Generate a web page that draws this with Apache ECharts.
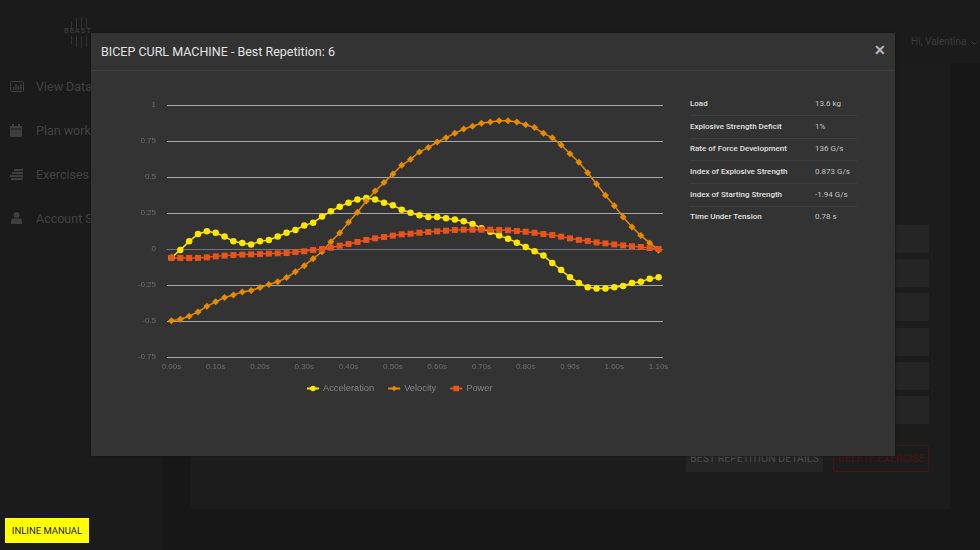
<!DOCTYPE html>
<html>
<head>
<meta charset="utf-8">
<title>Bicep Curl Machine</title>
<script src="https://cdn.jsdelivr.net/npm/echarts@6/dist/echarts.min.js"></script>
<style>
html,body{margin:0;padding:0;width:980px;height:550px;overflow:hidden;background:#171717;font-family:Roboto,sans-serif}
.abs{position:absolute;box-sizing:border-box;white-space:nowrap}
#sidebar{left:0;top:0;width:163px;height:550px;background:#1b1b1b}
#topbar{left:163px;top:0;width:817px;height:63px;background:#1b1b1b}
#panel{left:190px;top:63px;width:760px;height:446px;background:#1c1c1c}
.nav{left:36px;font-size:12.5px;color:#424242;line-height:16px}
.row{left:880px;width:49px;height:28px;background:#252525}
#modal{left:91px;top:33px;width:804px;height:423px;background:#333;box-shadow:0 0 2px #111}
#mhead{left:91px;top:70px;width:804px;height:1px;background:#414141}
#mtitle{left:101px;top:43px;font-size:12.5px;line-height:17px;color:#e4e4e4}
#close{left:874px;top:41px;font-size:14px;line-height:18px;font-weight:700;color:#b8b8b8}
.tl{left:690px;font-size:8px;font-weight:500;line-height:12px;color:#e0e0e0}
.tv{left:815px;font-size:8px;line-height:12px;color:#c4c4c4}
.sep{left:690px;width:167px;height:1px;background:#3f3f3f}
#chart{left:0;top:0;width:980px;height:550px}
svg.abs{overflow:visible}
</style>
</head>
<body>
<div class="abs" id="sidebar"></div>
<div class="abs" id="topbar"></div>
<div class="abs" id="panel"></div>
<svg class="abs" style="left:70px;top:17px" width="20" height="31" stroke="#333" stroke-width="1">
  <path d="M1.5 4V11M1.5 19V27M6.5 1V11M6.5 19V30M11.5 0V11M11.5 19V31M16.5 1V11M16.5 19V30"/>
</svg>
<div class="abs" style="left:64px;top:26px;font-size:7.5px;font-weight:700;color:#383838;letter-spacing:.9px">BEAST</div>
<svg class="abs" style="left:10px;top:81px" width="14" height="12" fill="none" stroke="#3f3f3f"><rect x=".5" y=".5" width="13" height="10" rx="1"/><path d="M3.5 9V6M6 9V3M8.5 9V5M11 9V3" stroke-width="1.4"/></svg>
<div class="abs nav" style="top:79px">View Data</div>
<svg class="abs" style="left:10px;top:124px" width="13" height="13" fill="#3f3f3f"><rect x="0" y="2" width="12" height="11" rx="1"/><rect x="2" y="0" width="2" height="3"/><rect x="8" y="0" width="2" height="3"/><path d="M1 5H11" stroke="#1b1b1b"/></svg>
<div class="abs nav" style="top:123px">Plan workout</div>
<svg class="abs" style="left:10px;top:169px" width="13" height="11" stroke="#3f3f3f" stroke-width="2"><path d="M4 1H13M2 4H13M0 7H13M1 10H13"/></svg>
<div class="abs nav" style="top:167px">Exercises</div>
<svg class="abs" style="left:11px;top:212px" width="11" height="12" fill="#3f3f3f"><circle cx="5.5" cy="3" r="3"/><path d="M0 12V8.5C0 7 1.5 6.5 3 6.5H8C9.5 6.5 11 7 11 8.5V12Z"/></svg>
<div class="abs nav" style="top:211px">Account Settings</div>
<div class="abs" style="left:911px;top:36px;font-size:10px;color:#3c3c3c">Hi, Valentina</div>
<svg class="abs" style="left:971px;top:41px" width="7" height="5" fill="none" stroke="#3c3c3c"><path d="M.5 .5L3.5 3.5L6.5 .5"/></svg>
<div class="abs row" style="top:225px"></div>
<div class="abs row" style="top:259px"></div>
<div class="abs row" style="top:293px"></div>
<div class="abs row" style="top:328px"></div>
<div class="abs row" style="top:362px"></div>
<div class="abs row" style="top:396px"></div>
<div class="abs" style="left:686px;top:447px;width:137px;height:25px;background:#252525;color:#4c4c4c;font-size:10.5px;line-height:23px;text-align:center;border-radius:2px">BEST REPETITION DETAILS</div>
<div class="abs" style="left:833px;top:445px;width:96px;height:27px;border:1px solid #4a1414;color:#4a1414;font-size:10.5px;line-height:25px;text-align:center;border-radius:2px">DELETE EXERCISE</div>
<div class="abs" style="left:5px;top:518px;width:84px;height:25px;background:#ff0;color:#222;font-size:9.5px;line-height:25px;text-align:center">INLINE MANUAL</div>
<div class="abs" id="modal"></div>
<div class="abs" id="mhead"></div>
<div class="abs" id="mtitle">BICEP CURL MACHINE - Best Repetition: 6</div>
<div class="abs" id="close">&#10005;</div>
<div id="tbl"></div>
<div class="abs" id="chart"></div>
<script>
const categories = ["0.00s","0.02s","0.04s","0.06s","0.08s","0.10s","0.12s","0.14s","0.16s","0.18s","0.20s","0.22s","0.24s","0.26s","0.28s","0.30s","0.32s","0.34s","0.36s","0.38s","0.40s","0.42s","0.44s","0.46s","0.48s","0.50s","0.52s","0.54s","0.56s","0.58s","0.60s","0.62s","0.64s","0.66s","0.68s","0.70s","0.72s","0.74s","0.76s","0.78s","0.80s","0.82s","0.84s","0.86s","0.88s","0.90s","0.92s","0.94s","0.96s","0.98s","1.00s","1.02s","1.04s","1.06s","1.08s","1.10s"];
const acceleration = [-0.06,-0.007,0.053,0.104,0.123,0.113,0.086,0.053,0.042,0.032,0.053,0.062,0.086,0.113,0.132,0.164,0.183,0.225,0.262,0.294,0.322,0.343,0.354,0.343,0.322,0.303,0.273,0.252,0.234,0.222,0.222,0.213,0.204,0.192,0.174,0.144,0.12,0.093,0.072,0.044,0.014,-0.016,-0.046,-0.097,-0.146,-0.197,-0.236,-0.266,-0.275,-0.275,-0.266,-0.257,-0.236,-0.227,-0.206,-0.197];
const velocity = [-0.498,-0.488,-0.467,-0.437,-0.398,-0.367,-0.337,-0.319,-0.298,-0.288,-0.267,-0.247,-0.228,-0.198,-0.158,-0.116,-0.067,-0.019,0.051,0.111,0.185,0.255,0.333,0.403,0.461,0.521,0.581,0.623,0.674,0.704,0.743,0.773,0.803,0.833,0.852,0.873,0.882,0.891,0.891,0.882,0.863,0.843,0.803,0.773,0.722,0.662,0.602,0.53,0.451,0.373,0.301,0.222,0.153,0.093,0.042,-0.008];
const power = [-0.062,-0.062,-0.062,-0.062,-0.058,-0.051,-0.046,-0.042,-0.039,-0.037,-0.035,-0.032,-0.03,-0.028,-0.021,-0.016,-0.007,0,0.009,0.023,0.035,0.049,0.063,0.074,0.083,0.093,0.102,0.106,0.113,0.118,0.123,0.127,0.132,0.134,0.134,0.134,0.134,0.132,0.13,0.125,0.12,0.113,0.104,0.097,0.086,0.074,0.063,0.056,0.046,0.039,0.032,0.025,0.019,0.014,0.007,0];
const statLabels = ["Load","Explosive Strength Deficit","Rate of Force Development","Index of Explosive Strength","Index of Starting Strength","Time Under Tension"];
const statValues = ["13.6 kg","1%","136 G/s","0.873 G/s","-1.94 G/s","0.78 s"];
const statTops = [98,121,143,166,189,211];

const tbl = document.getElementById('tbl');
statLabels.forEach((t,i)=>{
  tbl.insertAdjacentHTML('beforeend',
    `<div class="abs tl" style="top:${statTops[i]}px">${t}</div><div class="abs tv" style="top:${statTops[i]}px">${statValues[i]}</div>`+
    (i<5?`<div class="abs sep" style="top:${statTops[i]+17}px"></div>`:''));
});

const chart = echarts.init(document.getElementById('chart'),null,{renderer:'canvas'});
const font = '"Liberation Sans",Arial,sans-serif';
function line(name,data,color,symbol,size){
  return {name,type:'line',data,symbol,symbolSize:size,showAllSymbol:true,
    lineStyle:{color,width:1.5},itemStyle:{color},animation:false,emphasis:{disabled:true}};
}
chart.setOption({
  backgroundColor:'transparent',
  animation:false,
  legend:{left:301,top:379,itemWidth:12,itemHeight:7,itemGap:13,
    textStyle:{color:'#858585',fontSize:9.3,fontFamily:font,padding:[0,0,0,-1]},
    data:['Acceleration','Velocity','Power']},
  grid:{left:167,top:105,width:496,height:252,containLabel:false},
  xAxis:{type:'category',data:categories,boundaryGap:true,
    axisLine:{lineStyle:{color:'#6f7583',width:1}},
    axisTick:{alignWithLabel:true,interval:4,length:5,lineStyle:{color:'#6f7583'}},
    axisLabel:{interval:4,color:'#6e6e6e',fontSize:8,fontFamily:font,margin:6},
    splitLine:{show:false}},
  yAxis:{type:'value',min:-0.75,max:1,interval:0.25,
    axisLine:{show:false},axisTick:{show:false},
    axisLabel:{color:'#6e6e6e',fontSize:8,fontFamily:font,margin:11,formatter:v=>String(v)},
    splitLine:{lineStyle:{color:'#a8a8a8',width:1}}},
  series:[
    line('Acceleration',acceleration,'#ffe600','circle',6.5),
    line('Velocity',velocity,'#e68a00','diamond',7),
    line('Power',power,'#e8541a','rect',6)
  ]
});
</script>
</body>
</html>
